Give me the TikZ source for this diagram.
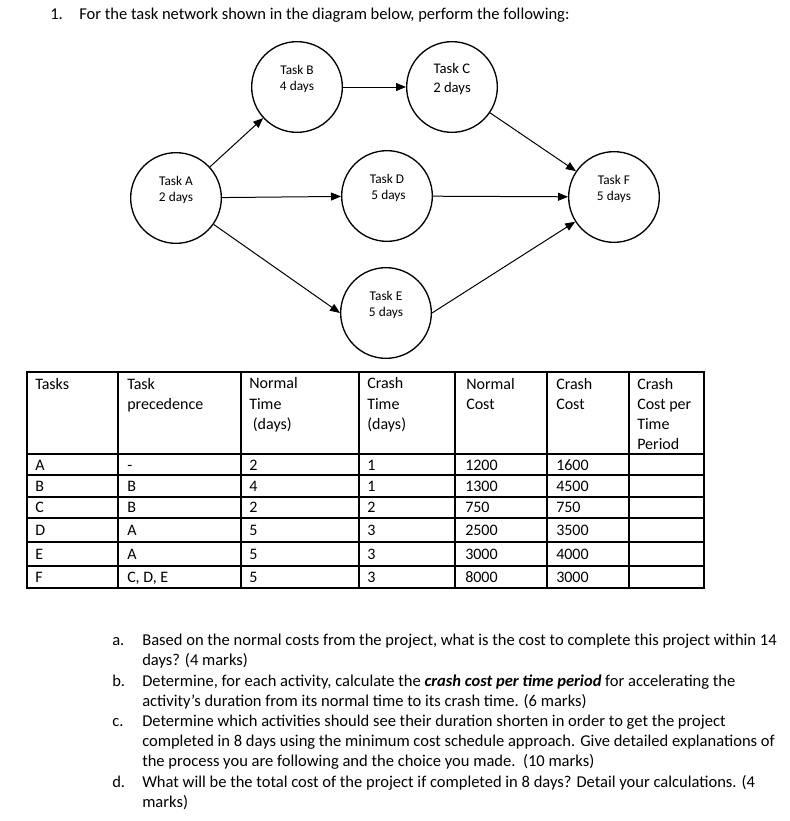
\documentclass[tikz,border=0pt]{standalone}
\usepackage{fontspec}
\setmainfont{Carlito}
\usetikzlibrary{arrows.meta,positioning,calc}
\tikzset{x=0.75pt, y=-0.75pt, % One unit is one pixel of the page
        >={Triangle[length=7.5pt,width=6pt]},
        task/.style={ % Sets the properties for each task circle
            circle, draw, line width=1pt,
            minimum size=68pt, inner sep=0pt},
        tasktext/.style={ % Text sits a little above the centre
            font=\fontsize{10}{12}\selectfont, align=center, yshift=6pt},
        link/.style={ % Sets the properties for each precedence arrow
            draw, ->, line width=0.75pt},
        cell/.style={ % Table entries, placed at the baseline of the last line
            anchor=base west, inner sep=0pt, align=left,
            font=\fontsize{12}{15.2}\selectfont},
        item/.style={ % Question text, placed at the baseline of the last line
            anchor=base west, inner sep=0pt, align=left,
            font=\fontsize{12.4}{15}\selectfont}
        }

\begin{document}
\begin{tikzpicture}
    \useasboundingbox (0,0) rectangle (789,821);

    \node[item] (num)   at (50,19) {1.};
    \node[item] (title) at (79,19) {For the task network shown in the diagram below, perform the following:};

    % task network
    \node[task, label={[tasktext]center:{Task A\\2 days}}] (a) at (176,198) {};
    \node[task, label={[tasktext]center:{Task B\\4 days}}] (b) at (297,87) {};
    \node[task, label={[tasktext, font=\fontsize{11}{14}\selectfont]center:{Task C\\2 days}}] (c) at (452,87) {};
    \node[task, label={[tasktext]center:{Task D\\\ 5 days}}] (d) at (387,196) {};
    \node[task, label={[tasktext]center:{Task E\\5 days}}] (e) at (386,313) {};
    \node[task, label={[tasktext]center:{Task F\\5 days}}] (f) at (614,197) {};

    \draw[link] (a) -- (b);
    \draw[link] (b) -- (c);
    \draw[link] (c) -- (f);
    \draw[link] (a) -- (d);
    \draw[link] (d) -- (f);
    \draw[link] (a) -- (e.west);
    \draw[link] (e.east) -- (f);

    % table
    \draw[line width=0.8pt] (27,372) rectangle (704,588);
    \foreach \x in {118,241,359,455,547,629}
        \draw[line width=0.8pt] (\x,372) -- (\x,588);
    \foreach \y in {454,475,497,518,542,566}
        \draw[line width=0.8pt] (27,\y) -- (704,\y);

    \node[cell] (h1) at (35,389)    {Tasks};
    \node[cell] (h2) at (127,409.3) {Task\\precedence};
    \node[cell] (h3) at (249,429.5) {Normal\\Time\\\ (days)};
    \node[cell] (h4) at (367,429.5) {Crash\\Time\\(days)};
    \node[cell] (h5) at (466,409.3) {Normal\\Cost};
    \node[cell] (h6) at (556,409.3) {Crash\\Cost};
    \node[cell] (h7) at (637,449.8) {Crash\\Cost per\\Time\\Period};

    \foreach \t/\p/\n/\c/\nc/\cc/\yy in {A/-/2/1/1200/1600/470,
            B/B/4/1/1300/4500/491, C/B/2/2/750/750/512,
            D/A/5/3/2500/3500/535, E/A/5/3/3000/4000/559,
            F/{C, D, E}/5/3/8000/3000/582} {
        \node[cell] (t\t)  at (35,\yy)  {\t};
        \node[cell] (p\t)  at (127,\yy) {\p};
        \node[cell] (n\t)  at (249,\yy) {\n};
        \node[cell] (c\t)  at (367,\yy) {\c};
        \node[cell] (nc\t) at (465,\yy) {\nc};
        \node[cell] (cc\t) at (556,\yy) {\cc};
    }

    % questions
    \node[item] (la) at (112,645) {a.};
    \node[item] (qa) at (142,665) {Based on the normal costs from the project, what is the cost to complete this project within 14\\days? (4 marks)};
    \node[item] (lb) at (112,686) {b.};
    \node[item] (qb) at (142,706) {Determine, for each activity, calculate the \textbf{\textit{crash cost per time period}} for accelerating the\\activity’s duration from its normal time to its crash time. (6 marks)};
    \node[item] (lc) at (112,726) {c.};
    \node[item] (qc) at (142,766) {Determine which activities should see their duration shorten in order to get the project\\completed in 8 days using the minimum cost schedule approach. Give detailed explanations of\\the process you are following and the choice you made.\ \ (10 marks)};
    \node[item] (ld) at (112,787) {d.};
    \node[item] (qd) at (142,807) {What will be the total cost of the project if completed in 8 days? Detail your calculations. (4\\marks)};
\end{tikzpicture}
\end{document}
